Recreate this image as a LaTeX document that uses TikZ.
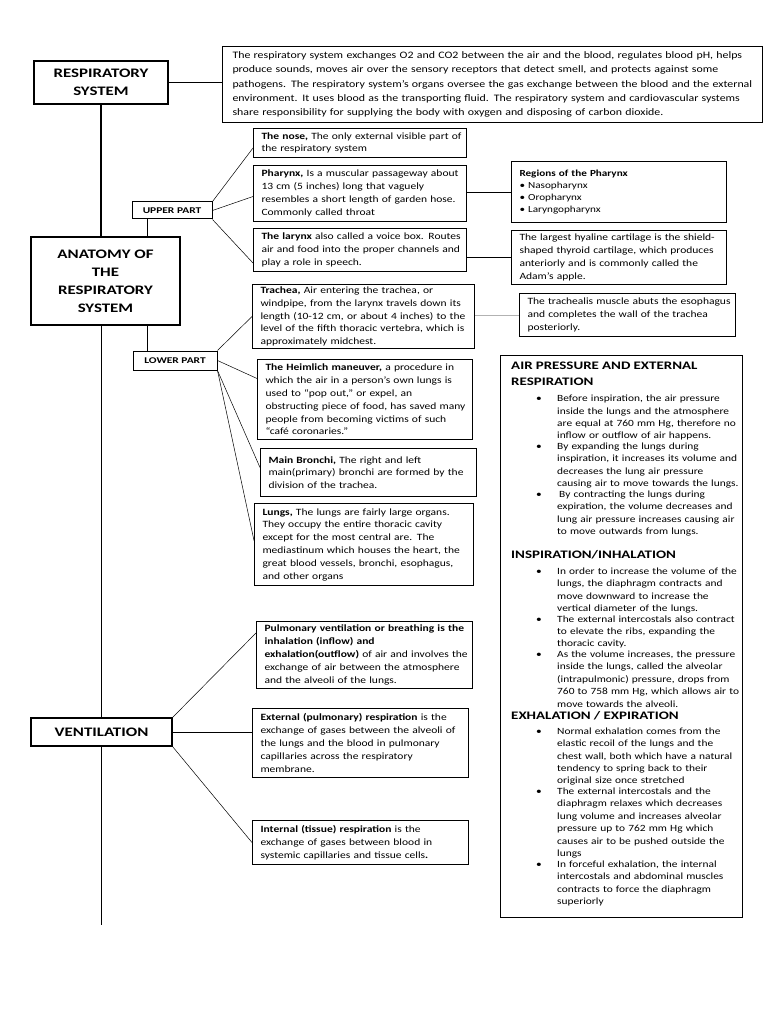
\documentclass[tikz,border=0pt]{standalone}
\usepackage{fontspec}
\setmainfont{Carlito}[FakeStretch=1.2]
\newfontfamily\titlefont{Carlito}[FakeStretch=1.3]
\usetikzlibrary{positioning}

\newcommand{\airhead}{\titlefont\bfseries\fontsize{11.5}{16}\selectfont}
\newcommand{\airitem}[1]{\par\vskip1.5pt\noindent\hspace*{25pt}\makebox[21pt][l]{\textbullet}\parbox[t]{200pt}{\raggedright #1}}

\tikzset{
  bigbox/.style={draw, line width=1.2pt, align=center, font=\titlefont\bfseries\fontsize{13}{18}\selectfont, inner sep=2pt},
  partbox/.style={draw, line width=1pt, font=\titlefont\bfseries\fontsize{8.8}{10}\selectfont, inner sep=1pt},
  infobox/.style={draw, line width=1pt, align=left, anchor=north west, inner xsep=8pt, inner ysep=2pt,
    font=\fontsize{9.6}{12.8}\selectfont, execute at begin node={\rightskip=-30pt plus 1fil}},
  spine/.style={line width=1.8pt},
  twig/.style={line width=0.5pt},
  link/.style={line width=0.9pt},
}

\begin{document}
\begin{tikzpicture}[x=1pt,y=-1pt]
\useasboundingbox[fill=white] (0,0) rectangle (768,1024);

% main column
\node[bigbox, minimum width=134pt, minimum height=43pt] (rs) at (101,82.5) {RESPIRATORY\\SYSTEM};
\node[bigbox, minimum width=149pt, minimum height=88pt] (anat) at (105.5,281) {ANATOMY OF\\THE\\RESPIRATORY\\SYSTEM};
\node[bigbox, minimum width=141pt, minimum height=28pt] (vent) at (101.5,732) {VENTILATION};
\node[partbox, minimum width=80pt, minimum height=17pt] (up) at (172,210.5) {UPPER PART};
\node[partbox, minimum width=84pt, minimum height=19pt] (low) at (175,360.5) {LOWER PART};
\coordinate (spineend) at (101.5,925);

% description
\node[infobox, inner xsep=10pt, text width=520pt, minimum height=76pt, font=\fontsize{9.9}{14.3}\selectfont] (topd) at (222,46)
  {The respiratory system exchanges O2 and CO2 between the air and the blood, regulates blood pH, helps\\
   produce sounds, moves air over the sensory receptors that detect smell, and protects against some\\
   pathogens. The respiratory system’s organs oversee the gas exchange between the blood and the external\\
   environment. It uses blood as the transporting fluid. The respiratory system and cardiovascular systems\\
   share responsibility for supplying the body with oxygen and disposing of carbon dioxide.};

% upper part
\node[infobox, text width=197pt, minimum height=29pt] (nose) at (253,128)
  {\textbf{The nose,} The only external visible part of\\the respiratory system};
\node[infobox, text width=197pt, minimum height=56pt] (phar) at (253,165)
  {\textbf{Pharynx,} Is a muscular passageway about\\13 cm (5 inches) long that vaguely\\resembles a short length of garden hose.\\Commonly called throat};
\node[infobox, text width=199pt, minimum height=61pt, font=\fontsize{9.3}{12}\selectfont] (reg) at (511,161)
  {\textbf{Regions of the Pharynx}\\\textbullet\ Nasopharynx\\\textbullet\ Oropharynx\\\textbullet\ Laryngopharynx};
\node[infobox, text width=197pt, minimum height=43pt] (lar) at (253,228)
  {\textbf{The larynx} also called a voice box. Routes\\air and food into the proper channels and\\play a role in speech.};
\node[infobox, text width=199pt, minimum height=54pt] (hyal) at (511,230)
  {The largest hyaline cartilage is the shield-\\shaped thyroid cartilage, which produces\\anteriorly and is commonly called the\\Adam’s apple.};

% lower part
\node[infobox, text width=206pt, minimum height=64pt] (trach) at (252,284)
  {\textbf{Trachea,} Air entering the trachea, or\\windpipe, from the larynx travels down its\\length (10-12 cm, or about 4 inches) to the\\level of the fifth thoracic vertebra, which is\\approximately midchest.};
\node[infobox, text width=200pt, minimum height=43pt] (tral) at (519,293)
  {The trachealis muscle abuts the esophagus\\and completes the wall of the trachea\\posteriorly.};
\node[infobox, text width=199pt, minimum height=80pt] (heim) at (257,359)
  {\textbf{The Heimlich maneuver,} a procedure in\\which the air in a person’s own lungs is\\used to “pop out,” or expel, an\\obstructing piece of food, has saved many\\people from becoming victims of such\\“café coronaries.”};
\node[infobox, text width=200pt, minimum height=48pt] (bron) at (260,448)
  {\textbf{Main Bronchi,} The right and left\\main(primary) bronchi are formed by the\\division of the trachea.};
\node[infobox, text width=203pt, minimum height=82pt] (lung) at (254,503)
  {\textbf{Lungs,} The lungs are fairly large organs.\\They occupy the entire thoracic cavity\\except for the most central are. The\\mediastinum which houses the heart, the\\great blood vessels, bronchi, esophagus,\\and other organs};

% ventilation
\node[infobox, text width=200pt, minimum height=67pt] (pulm) at (256,621)
  {\textbf{Pulmonary ventilation or breathing is the}\\\textbf{inhalation (inflow) and}\\\textbf{exhalation(outflow)} of air and involves the\\exchange of air between the atmosphere\\and the alveoli of the lungs.};
\node[infobox, text width=200pt, minimum height=69pt] (ext) at (252,708)
  {\textbf{External (pulmonary) respiration} is the\\exchange of gases between the alveoli of\\the lungs and the blood in pulmonary\\capillaries across the respiratory\\membrane.};
\node[infobox, text width=200pt, minimum height=44pt] (int) at (252,820)
  {\textbf{Internal (tissue) respiration} is the\\exchange of gases between blood in\\systemic capillaries and tissue cells\textbf{.}};

% air pressure panel
\node[draw, line width=1pt, anchor=north west, minimum width=242pt, minimum height=562pt, inner sep=0pt] (airbox) at (500,355) {};
\node[anchor=north west, text width=225pt, inner xsep=11pt, inner ysep=7pt, align=left, font=\fontsize{9.5}{12.4}\selectfont] (airtext) at (airbox.north west) {%
  {\airhead AIR PRESSURE AND EXTERNAL\\RESPIRATION\par}
  \vspace{2pt}
  \airitem{Before inspiration, the air pressure\\inside the lungs and the atmosphere\\are equal at 760 mm Hg, therefore no\\inflow or outflow of air happens.}
  \airitem{By expanding the lungs during\\inspiration, it increases its volume and\\decreases the lung air pressure\\causing air to move towards the lungs.}
  \airitem{\hspace*{2pt}By contracting the lungs during\\expiration, the volume decreases and\\lung air pressure increases causing air\\to move outwards from lungs.}
  \par\vspace{13pt}
  {\airhead INSPIRATION/INHALATION\par}
  \vspace{2pt}
  \airitem{In order to increase the volume of the\\lungs, the diaphragm contracts and\\move downward to increase the\\vertical diameter of the lungs.}
  \airitem{The external intercostals also contract\\to elevate the ribs, expanding the\\thoracic cavity.}
  \airitem{As the volume increases, the pressure\\inside the lungs, called the alveolar\\(intrapulmonic) pressure, drops from\\760 to 758 mm Hg, which allows air to\\move towards the alveoli.}
  \par\vspace{3pt}
  {\airhead EXHALATION / EXPIRATION\par}
  \vspace{1pt}
  \airitem{Normal exhalation comes from the\\elastic recoil of the lungs and the\\chest wall, both which have a natural\\tendency to spring back to their\\original size once stretched}
  \airitem{The external intercostals and the\\diaphragm relaxes which decreases\\lung volume and increases alveolar\\pressure up to 762 mm Hg which\\causes air to be pushed outside the\\lungs}
  \airitem{In forceful exhalation, the internal\\intercostals and abdominal muscles\\contracts to force the diaphragm\\superiorly}};

% connectors
\draw[spine] (rs.south) -- (rs.south |- anat.north);
\draw[spine] (vent.north |- anat.south) -- (vent.north);
\draw[spine] (vent.south) -- (spineend);
\draw[link] (rs.east) -- (rs.east -| topd.west);
\draw[link] ([xshift=16pt]up.south west) -- ([xshift=16pt]up.south west |- anat.north);
\draw[link] ([xshift=15pt]low.north west) -- ([xshift=15pt]low.north west |- anat.south);
\draw[twig] (up.north east) -- ([yshift=-5pt]nose.west);
\draw[twig] (up.east) -- ([yshift=-3pt]phar.west);
\draw[twig] (up.south east) -- ([yshift=-13pt]lar.west);
\draw[twig] (low.north east) -- (trach.west);
\draw[twig] (low.east) -- ([yshift=21pt]heim.west);
\draw[twig] (low.south east) -- ([yshift=5pt]bron.west);
\draw[twig] (low.south east) -- ([yshift=4pt]lung.west);
\draw[twig] (vent.north east) -- ([yshift=22pt]pulm.west);
\draw[twig] (vent.east) -- (vent.east -| ext.west);
\draw[twig] (vent.south east) -- (int.west);
\draw[link] (phar.east |- reg.west) -- (reg.west);
\draw[link] (lar.east |- hyal.west) -- (hyal.west);
\draw[link, gray!60] (trach.east |- tral.west) -- (tral.west);
\end{tikzpicture}
\end{document}
